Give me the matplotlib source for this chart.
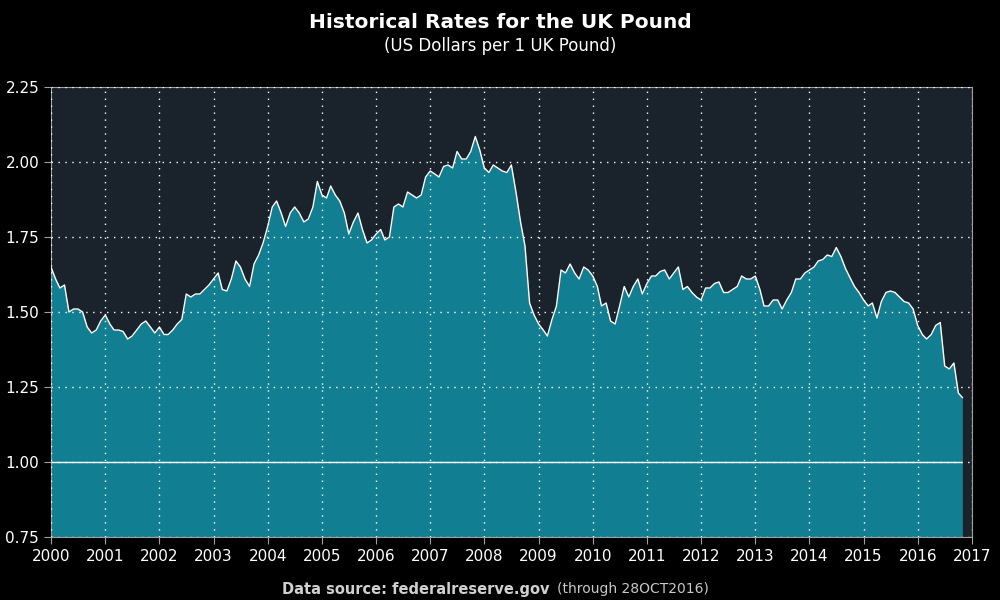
import matplotlib
matplotlib.use("Agg")
import matplotlib.pyplot as plt
import numpy as np
import pandas as pd

# monthly readings (USD per GBP), Jan 2000 .. Oct 2016
rates_2000 = [1.647, 1.61, 1.58, 1.59, 1.50, 1.51, 1.51, 1.50, 1.45, 1.43, 1.44, 1.47]
rates_2001 = [1.49, 1.46, 1.44, 1.44, 1.435, 1.41, 1.42, 1.44, 1.46, 1.47, 1.45, 1.43]
rates_2002 = [1.45, 1.425, 1.425, 1.44, 1.46, 1.475, 1.56, 1.55, 1.56, 1.56, 1.575, 1.59]
rates_2003 = [1.61, 1.63, 1.575, 1.57, 1.61, 1.67, 1.65, 1.61, 1.585, 1.66, 1.69, 1.73]
rates_2004 = [1.785, 1.85, 1.87, 1.83, 1.785, 1.83, 1.85, 1.83, 1.80, 1.81, 1.85, 1.935]
rates_2005 = [1.89, 1.88, 1.92, 1.89, 1.87, 1.83, 1.76, 1.80, 1.83, 1.775, 1.73, 1.74]
rates_2006 = [1.76, 1.775, 1.74, 1.75, 1.85, 1.86, 1.85, 1.90, 1.89, 1.88, 1.89, 1.95]
rates_2007 = [1.97, 1.96, 1.95, 1.985, 1.99, 1.98, 2.035, 2.01, 2.01, 2.035, 2.085, 2.04]
rates_2008 = [1.98, 1.965, 1.99, 1.98, 1.97, 1.965, 1.99, 1.90, 1.80, 1.72, 1.53, 1.49]
rates_2009 = [1.46, 1.44, 1.42, 1.475, 1.52, 1.64, 1.63, 1.66, 1.63, 1.61, 1.65, 1.64]
rates_2010 = [1.62, 1.585, 1.52, 1.53, 1.47, 1.46, 1.52, 1.585, 1.55, 1.585, 1.61, 1.56]
rates_2011 = [1.595, 1.62, 1.62, 1.635, 1.64, 1.61, 1.63, 1.65, 1.575, 1.585, 1.565, 1.55]
rates_2012 = [1.54, 1.58, 1.58, 1.595, 1.60, 1.565, 1.565, 1.575, 1.585, 1.62, 1.61, 1.61]
rates_2013 = [1.62, 1.575, 1.52, 1.52, 1.54, 1.54, 1.51, 1.54, 1.565, 1.61, 1.61, 1.63]
rates_2014 = [1.64, 1.65, 1.67, 1.675, 1.69, 1.685, 1.715, 1.685, 1.645, 1.615, 1.585, 1.565]
rates_2015 = [1.54, 1.52, 1.53, 1.48, 1.535, 1.565, 1.57, 1.565, 1.55, 1.535, 1.53, 1.51]
rates_2016 = [1.455, 1.425, 1.41, 1.425, 1.455, 1.465, 1.32, 1.31, 1.33, 1.23]

rates = (rates_2000 + rates_2001 + rates_2002 + rates_2003 + rates_2004 + rates_2005
         + rates_2006 + rates_2007 + rates_2008 + rates_2009 + rates_2010 + rates_2011
         + rates_2012 + rates_2013 + rates_2014 + rates_2015 + rates_2016)
dates = list(pd.date_range("2000-01-01", periods=len(rates), freq="MS"))
dates[0] = pd.Timestamp("2000-01-03")

# last reading
dates.append(pd.Timestamp("2016-10-28"))
rates.append(1.215)

years = list(range(2000, 2018))
yticks = [0.75, 1.00, 1.25, 1.50, 1.75, 2.00, 2.25]

bg = "#000000"
plotbg = "#1a222c"
teal = "#117f91"
grey = "#a0a0a0"

fig = plt.figure(figsize=(10, 6), dpi=100, facecolor=bg)
ax = fig.add_axes([0.051, 0.105, 0.921, 0.75])
ax.set_facecolor(plotbg)

ax.fill_between(dates, rates, 0.75, color=teal, linewidth=0, zorder=2)
ax.plot(dates, rates, color="white", linewidth=1.0, zorder=3)
ax.hlines(1.0, dates[0], dates[-1], color="white", linewidth=1.0, zorder=4)

ax.set_xlim(pd.Timestamp("2000-01-01"), pd.Timestamp("2017-01-01"))
ax.set_ylim(0.75, 2.25)
ax.set_xticks([pd.Timestamp(f"{y}-01-01") for y in years])
ax.set_xticklabels([str(y) for y in years])
ax.set_yticks(yticks)
ax.set_yticklabels([f"{v:.2f}" for v in yticks])

ax.grid(True, color="white", linestyle=(0, (1, 4)), linewidth=1.0, zorder=3)
ax.set_axisbelow(False)

for s in ax.spines.values():
    s.set_color(grey)
ax.tick_params(colors=grey, labelcolor="white", labelsize=11, length=5)

fig.text(0.5, 0.962, "Historical Rates for the UK Pound", color="white",
         fontsize=14.5, fontweight="bold", ha="center", va="center")
fig.text(0.5, 0.923, "(US Dollars per 1 UK Pound)", color="white",
         fontsize=12, ha="center", va="center")
fig.text(0.55, 0.018, "Data source: federalreserve.gov", color="#d0d0d0",
         fontsize=10.5, fontweight="bold", ha="right", va="center")
fig.text(0.557, 0.018, "(through 28OCT2016)", color="#c8c8c8",
         fontsize=10, ha="left", va="center")

fig.savefig("out.png", dpi=100, facecolor=bg)
